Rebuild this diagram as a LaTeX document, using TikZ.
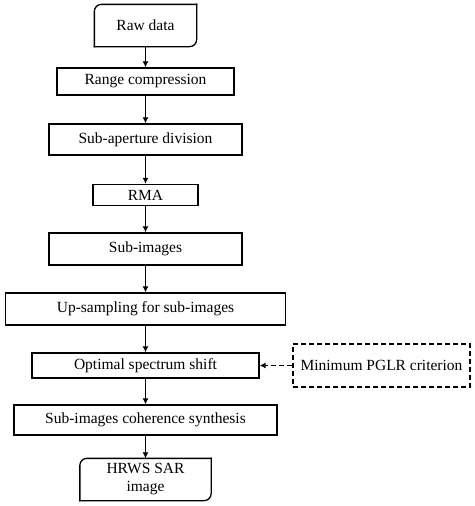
\documentclass[tikz,border=0pt]{standalone}
\usepackage{fontspec}
\setmainfont{Liberation Serif}
\usetikzlibrary{calc,arrows.meta}

\begin{document}
\begin{tikzpicture}[x=1pt,y=1pt,
		box/.style={draw,line width=1.3pt,inner sep=0pt,align=center,font=\fontsize{15.5}{18}\selectfont},
		term/.style={box,draw=none},
		flow/.style={-{Latex[length=6pt,width=6pt]},line width=1.3pt}]
		\useasboundingbox (0,0) rectangle (474,-506);
		
		%main chain
		\node[term,minimum width=101pt,minimum height=41pt] (raw) at (145.5,-25.5) {Raw data};
		\node[box,minimum width=177pt,minimum height=27pt] (rc) at (145.5,-81.5) {Range compression};
		\node[box,minimum width=193pt,minimum height=31pt] (sad) at (145.5,-139.5) {Sub-aperture division};
		\node[box,minimum width=105pt,minimum height=21pt] (rma) at (145.5,-195) {RMA};
		\node[box,minimum width=193pt,minimum height=32pt] (si) at (145.5,-249) {Sub-images};
		\node[box,minimum width=280pt,minimum height=32pt] (us) at (145.5,-309) {Up-sampling for sub-images};
		\node[box,minimum width=227pt,minimum height=25pt] (oss) at (145.5,-365.5) {Optimal spectrum shift};
		\node[box,minimum width=263pt,minimum height=30pt] (cs) at (145.5,-420) {Sub-images coherence synthesis};
		\node[term,minimum width=130pt,minimum height=41pt] (out) at (145.5,-479.5) {HRWS SAR\\image};
		%criterion
		\node[box,dash pattern=on 5pt off 3pt,minimum width=177pt,minimum height=43pt] (pglr) at (381.5,-365.5) {Minimum PGLR criterion};
		
		%frames with two round corners
		\foreach \n in {raw,out}{
			\draw[line width=1.3pt,line cap=rect,rounded corners=7pt] (\n.north east) -- (\n.north west) -- (\n.south west);
			\draw[line width=1.3pt,line cap=rect,rounded corners=7pt] (\n.south west) -- (\n.south east) -- (\n.north east);
		}
		
		%arrows
		\draw[flow] (raw) -- (rc);
		\draw[flow] (rc) -- (sad);
		\draw[flow] (sad) -- (rma);
		\draw[flow] (rma) -- (si);
		\draw[flow] (si) -- (us);
		\draw[flow] (us) -- (oss);
		\draw[flow] (oss) -- (cs);
		\draw[flow] (cs) -- (out);
		\draw[flow,dash pattern=on 5pt off 3pt] (pglr) -- (oss);
		
\end{tikzpicture}
\end{document}
